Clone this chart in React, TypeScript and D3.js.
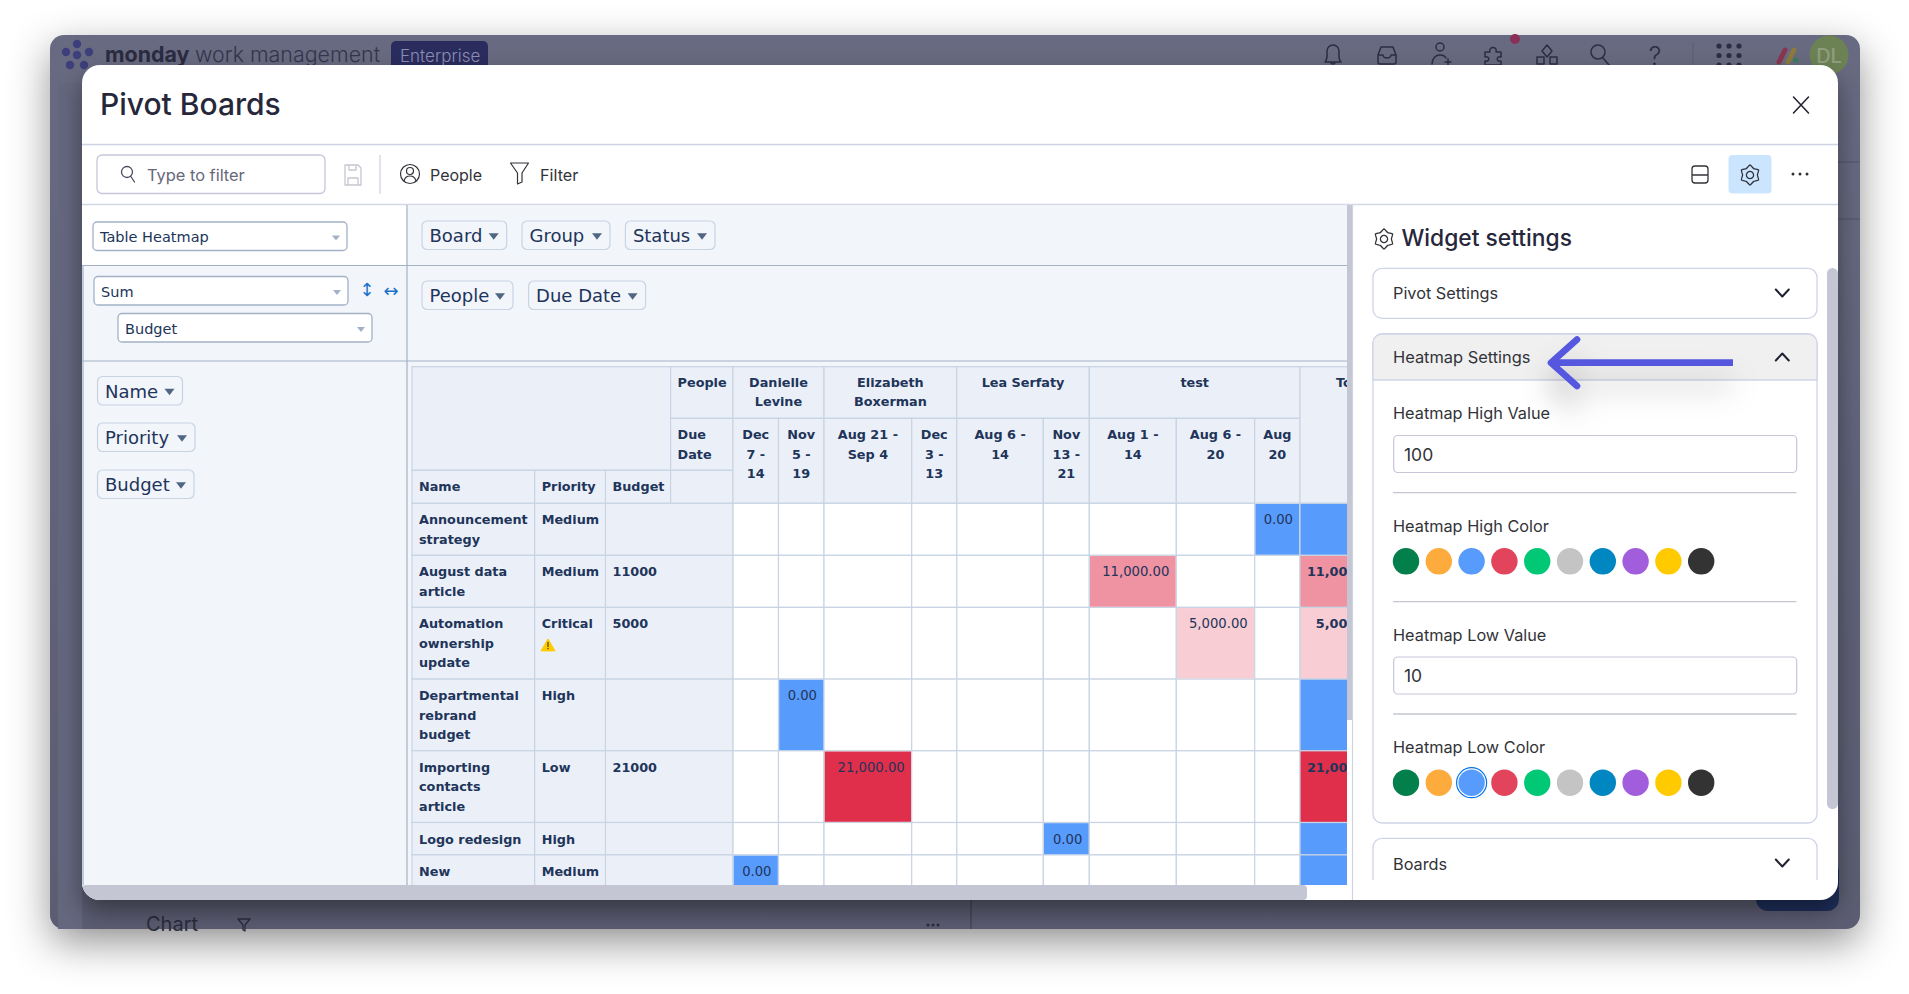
import React, { useEffect, useRef } from "react";
import * as d3 from "d3";

// pivot table contents
const rowNames = [
  ["Announcement", "strategy"],
  ["August data", "article"],
  ["Automation", "ownership", "update"],
  ["Departmental", "rebrand", "budget"],
  ["Importing", "contacts", "article"],
  ["Logo redesign"],
  ["New"],
];
const priorities = ["Medium", "Medium", "Critical", "High", "Low", "High", "Medium"];
const budgets = ["", "11000", "5000", "", "21000", "", ""];
const people = [
  { name: ["Danielle", "Levine"], span: 2 },
  { name: ["Elizabeth", "Boxerman"], span: 2 },
  { name: ["Lea Serfaty"], span: 2 },
  { name: ["test"], span: 3 },
];
const dueDates = [
  ["Dec", "7 -", "14"],
  ["Nov", "5 -", "19"],
  ["Aug 21 -", "Sep 4"],
  ["Dec", "3 -", "13"],
  ["Aug 6 -", "14"],
  ["Nov", "13 -", "21"],
  ["Aug 1 -", "14"],
  ["Aug 6 -", "20"],
  ["Aug", "20"],
];
// [row, date column, value]
const cells: [number, number, number][] = [
  [0, 8, 0],
  [1, 6, 11000],
  [2, 7, 5000],
  [3, 1, 0],
  [4, 2, 21000],
  [5, 5, 0],
  [6, 0, 0],
];
const rowTotals = [0, 11000, 5000, 0, 21000, 0, 0];
const swatches = ["#037f4c", "#fdab3d", "#579bfc", "#e2445c", "#00c875", "#c4c4c4", "#0086c0", "#a25ddc", "#ffcb00", "#333333"];

const W = 1909;
const H = 994;
const UI = "Inter, sans-serif";
const PV = "'DejaVu Sans', sans-serif";
const INK = "#21345a";

const colW = [45.5, 45.5, 87.7, 45.1, 86.5, 46, 87, 78.4, 45.3, 86];
const colEdges = [733, ...Array.from(d3.cumsum(colW)).map((d) => 733 + d)];
const rowH = d3.scaleLinear().domain([1, 3]).range([32.4, 71.7]);
const rowEdges = [503.3];
rowNames.forEach((r, i) => rowEdges.push(rowEdges[i] + rowH(r.length)));

const heat = d3.scaleLinear<string>().domain([0, 21000]).range(["#ffffff", "#e02f4b"]);
const fill = (v: number) => (v === 0 ? "#579bfc" : heat(v));
const money = d3.format(",.2f");

export default function App() {
  const ref = useRef<SVGSVGElement | null>(null);

  useEffect(() => {
    if (!ref.current) return;
    const svg = d3.select(ref.current);
    svg.selectAll("*").remove();
    const defs = svg.append("defs");

    const shadow = (id: string, dy: number, sd: number, op: number) => {
      defs.append("filter").attr("id", id)
        .attr("filterUnits", "userSpaceOnUse")
        .attr("x", -100).attr("y", -100).attr("width", W + 200).attr("height", H + 200)
        .append("feDropShadow")
        .attr("dx", 0).attr("dy", dy).attr("stdDeviation", sd)
        .attr("flood-color", "#000").attr("flood-opacity", op);
    };
    shadow("winShadow", 14, 20, 0.42);
    shadow("modalShadow", 12, 12, 0.4);
    shadow("arrowShadow", 22, 14, 0.28);

    const grad = defs.append("linearGradient").attr("id", "winFill").attr("x1", 0).attr("x2", 0).attr("y1", 0).attr("y2", 1);
    grad.append("stop").attr("offset", 0).attr("stop-color", "#676a81");
    grad.append("stop").attr("offset", 1).attr("stop-color", "#5b5d72");

    const clip = (id: string, x: number, y: number, w: number, h: number, r = 0) =>
      defs.append("clipPath").attr("id", id).append("rect")
        .attr("x", x).attr("y", y).attr("width", w).attr("height", h).attr("rx", r);
    clip("modalClip", 82, 65, 1756, 835, 18);
    clip("tableClip", 407, 205, 940, 680);
    clip("sideClip", 1353, 205, 485, 675);

    const rect = (g: any, x: number, y: number, w: number, h: number, f: string, s = "none", r = 0, sw = 1) =>
      g.append("rect").attr("x", x).attr("y", y).attr("width", w).attr("height", h)
        .attr("fill", f).attr("stroke", s).attr("stroke-width", sw).attr("rx", r);
    const text = (g: any, s: string, x: number, y: number, size: number, color: string, family = UI, weight: any = 400, anchor = "start") =>
      g.append("text").attr("x", x).attr("y", y).attr("font-size", size).attr("fill", color)
        .attr("font-family", family).attr("font-weight", weight).attr("text-anchor", anchor).text(s);
    const hline = (g: any, x1: number, x2: number, y: number, c: string, sw = 1) =>
      g.append("line").attr("x1", x1).attr("x2", x2).attr("y1", y).attr("y2", y).attr("stroke", c).attr("stroke-width", sw);
    const vline = (g: any, x: number, y1: number, y2: number, c: string, sw = 1) =>
      g.append("line").attr("x1", x).attr("x2", x).attr("y1", y1).attr("y2", y2).attr("stroke", c).attr("stroke-width", sw);
    const icon = (g: any, d: string, x: number, y: number, c: string, sw = 1.5, f = "none") =>
      g.append("path").attr("d", d).attr("transform", `translate(${x},${y})`)
        .attr("fill", f).attr("stroke", c).attr("stroke-width", sw)
        .attr("stroke-linecap", "round").attr("stroke-linejoin", "round");
    const tri = (g: any, x: number, y: number, hw: number, h: number, c: string) =>
      g.append("path").attr("d", `M${x - hw} ${y - h / 2}L${x + hw} ${y - h / 2}L${x} ${y + h / 2}Z`).attr("fill", c);

    const gearPath = (r: number) => {
      const pts: [number, number][] = d3.range(12).map((i) => [(i * Math.PI) / 6, i % 2 ? r * 0.74 : r]);
      const outer = d3.lineRadial().curve(d3.curveCardinalClosed.tension(0.6))(pts) as string;
      const c = r * 0.36;
      return `${outer}M${c} 0A${c} ${c} 0 1 1 ${-c} 0A${c} ${c} 0 1 1 ${c} 0`;
    };

    // --- page behind the modal ---
    const back = svg.append("g");
    rect(back, 50, 35, 1810, 894, "url(#winFill)", "none", 14).attr("filter", "url(#winShadow)");
    rect(back, 58, 83, 24, 846, "#64677e");
    hline(back, 1838, 1860, 162, "#585a70", 1.5);
    hline(back, 1838, 1860, 219, "#585a70", 1.5);

    const DARK = "#2c2d44";
    const logo: [number, number][] = [[77, 44], [66, 52], [89, 52], [77, 55], [70, 65], [84, 65]];
    back.selectAll(".logo").data(logo).enter().append("circle")
      .attr("cx", (d: any) => d[0]).attr("cy", (d: any) => d[1]).attr("r", 4.2).attr("fill", "#3d3f7c");
    text(back, "monday", 105, 62, 21.4, "#2a2b40", UI, 700);
    text(back, "work management", 195, 62, 21.4, "#34354c", UI, 300);
    rect(back, 391, 41, 97, 30, "#2b2c5e", "none", 5);
    text(back, "Enterprise", 400, 62, 17, "#8c8fb4", UI, 300);

    icon(back, "M-8 7C-5 4-6-2-6-4A6 6 0 0 1 6-4C6-2 5 4 8 7ZM-2 7A2 2 0 0 0 2 7", 1333, 55, DARK);
    icon(back, "M-9 0L-6-8H6L9 0V7A2 2 0 0 1 7 9H-7A2 2 0 0 1-9 7ZM-9 0H-4A4 3 0 0 0 4 0H9", 1387, 55, DARK);
    icon(back, "M-4-8A4 4 0 1 1 4-8A4 4 0 1 1-4-8M-8 9C-8 3-4 0 0 0C3 0 5 1 6 3M5 7H11M8 4V10", 1440, 55, DARK);
    icon(back, "M-8-3H-3C-5-9 5-9 3-3H8V2C3 0 3 8 8 6V10H-8V6C-3 8-3 0-8 2Z", 1493, 55, DARK);
    back.append("circle").attr("cx", 1515).attr("cy", 39).attr("r", 5).attr("fill", "#8a2f55");
    icon(back, "M0-10L5-4L0 2L-5-4ZM-10 2H-3V9H-10ZM3 2H10V9H3Z", 1547, 55, DARK);
    icon(back, "M-9-3A7 7 0 1 1 5-3A7 7 0 1 1-9-3M3 3L9 10", 1600, 55, DARK);
    text(back, "?", 1655, 65, 25, DARK, UI, 300, "middle");
    vline(back, 1693, 42, 65, "#5a5c72");
    const appDots = d3.cross(d3.range(3), d3.range(3));
    back.selectAll(".app").data(appDots).enter().append("circle")
      .attr("cx", (d: any) => 1719 + d[0] * 10).attr("cy", (d: any) => 46 + d[1] * 9.5).attr("r", 2.6).attr("fill", DARK);
    const mark = ["#8a3550", "#8b7a3c"];
    mark.forEach((c, i) => {
      back.append("line").attr("x1", 1779 + i * 9).attr("y1", 62).attr("x2", 1785 + i * 9).attr("y2", 50)
        .attr("stroke", c).attr("stroke-width", 5).attr("stroke-linecap", "round");
    });
    back.append("circle").attr("cx", 1796).attr("cy", 60).attr("r", 2.6).attr("fill", "#3a7d5a");
    back.append("circle").attr("cx", 1829).attr("cy", 55).attr("r", 19.5).attr("fill", "#6c8254");
    text(back, "DL", 1829, 63, 20, "#8f9e80", UI, 500, "middle");

    rect(back, 1756, 860, 83, 51, "#1e2f5c", "none", 12);
    text(back, "Chart", 146, 931, 20, "#2b2c3c", UI, 400);
    icon(back, "M-6-6H6L1 0V6L-1 5V0Z", 244, 925, "#2b2c3c", 1.3);
    [-5, 0, 5].forEach((o) => back.append("circle").attr("cx", 933 + o).attr("cy", 925).attr("r", 1.5).attr("fill", "#2b2c3c"));
    vline(back, 971, 900, 929, "#3b3c4b");

    // --- modal ---
    rect(svg, 82, 65, 1756, 835, "#fff", "none", 18).attr("filter", "url(#modalShadow)");
    const modal = svg.append("g").attr("clip-path", "url(#modalClip)");

    text(modal, "Pivot Boards", 100, 115, 30, "#26273a", UI, 500);
    icon(modal, "M-7.5-8L7.5 8M7.5-8L-7.5 8", 1801, 105, "#1f2030", 1.5);
    hline(modal, 82, 1838, 144.5, "#cfd2e3", 1.5);
    hline(modal, 82, 1838, 204.5, "#d4d7e6", 1.5);

    rect(modal, 97, 155, 228, 38.5, "#fff", "#c5c7d9", 5, 1.3);
    icon(modal, "M-6-2A5.5 5.5 0 1 1 5-2A5.5 5.5 0 1 1-6-2M3 2L7 8", 127.5, 174, "#4b4d60", 1.3);
    text(modal, "Type to filter", 147, 180.5, 16.4, "#676879");
    icon(modal, "M-8-10H5L8-7V10H-8ZM-4-10V-5H3V-10M-5 10V3H5V10", 353, 175, "#c5c7d0", 1.3);
    vline(modal, 380, 155, 194, "#d0d2de", 1.2);
    icon(modal, "M-9.5 0A9.5 9.5 0 1 1 9.5 0A9.5 9.5 0 1 1-9.5 0M-3.5-3A3.5 3.5 0 1 1 3.5-3A3.5 3.5 0 1 1-3.5-3M-6 7C-5 3-2 2 0 2C2 2 5 3 6 7", 410, 174, "#323338", 1.2);
    text(modal, "People", 430, 180.5, 16, "#323338");
    icon(modal, "M-9-9H9L2.5 1V10L-2 12V1Z", 519.5, 172, "#323338", 1.2);
    text(modal, "Filter", 540, 180.5, 16.2, "#323338");

    rect(modal, 1700 - 8, 166, 16, 17, "none", "#323338", 3, 1.3);
    hline(modal, 1692, 1708, 175, "#323338", 1.3);
    rect(modal, 1728.5, 155, 43, 38.5, "#cce5ff", "none", 4);
    icon(modal, gearPath(10), 1750, 175, "#323338", 1.3);
    [-7, 0, 7].forEach((o) => modal.append("circle").attr("cx", 1800 + o).attr("cy", 174).attr("r", 1.5).attr("fill", "#323338"));

    // --- pivot panels ---
    const PANEL = "#f2f5fa";
    const PLINE = "#a2b1c6";
    const PILL = "#c8d4e3";
    rect(modal, 407, 205, 940, 680, PANEL);
    rect(modal, 82, 265.5, 325, 620, PANEL);
    hline(modal, 82, 1347, 265.5, PLINE, 1.2);
    hline(modal, 82, 1347, 361, PLINE, 1.2);
    vline(modal, 407, 205, 885, PLINE, 1.2);
    vline(modal, 83, 265.5, 885, PLINE, 1.2);

    const select = (label: string, x: number, y: number) => {
      rect(modal, x, y, 254, 28.5, "#fff", PLINE, 4, 1.3);
      text(modal, label, x + 7, y + 20, 14.5, "#21345a", PV);
      tri(modal, x + 243, y + 16, 4, 5, PLINE);
    };
    select("Table Heatmap", 93, 222);
    select("Sum", 94, 276.5);
    select("Budget", 118, 313.5);
    text(modal, "↕", 367, 296, 18, "#1a73c9", PV, 400, "middle");
    text(modal, "↔", 391, 297, 18, "#1a73c9", PV, 400, "middle");

    const pill = (label: string, x: number, y: number, w: number) => {
      rect(modal, x, y, w, 28.5, PANEL, PILL, 5, 1.2);
      text(modal, label, x + 7.5, y + 21.2, 18, INK, PV);
      tri(modal, x + w - 13, y + 15.5, 5, 6.5, "#506784");
    };
    pill("Board", 422, 221, 84.7);
    pill("Group", 522, 221, 88);
    pill("Status", 625.4, 221, 89.6);
    pill("People", 422, 281, 91);
    pill("Due Date", 528.6, 281, 117);
    pill("Name", 97.5, 376.5, 85);
    pill("Priority", 97.5, 423, 97.5);
    pill("Budget", 97.5, 470, 96.5);

    // --- pivot table ---
    const table = modal.append("g").attr("clip-path", "url(#tableClip)");
    const HEAD = "#ebf0f8";
    const GRID = "#c8d4e3";
    const FS = 12.8;
    const LH = 19.4;
    const lines = (g: any, arr: string[], x: number, y: number, anchor: string, weight: any = 700) =>
      arr.forEach((s, i) => text(g, s, x, y + i * LH, FS, INK, PV, weight, anchor));
    const cell = (x0: number, x1: number, y0: number, y1: number, f: string) =>
      rect(table, x0, y0, x1 - x0, y1 - y0, f, GRID, 0, 1.2);

    const Y = [366.7, 418.3, 470.3, 503.3];
    const nameX = [412, 534.7, 605.5, 670.6, 733];
    cell(nameX[0], nameX[3], Y[0], Y[2], HEAD);
    cell(nameX[3], nameX[4], Y[0], Y[1], HEAD);
    lines(table, ["People"], nameX[3] + 7, Y[0] + 20.3, "start");
    cell(nameX[3], nameX[4], Y[1], Y[2], HEAD);
    lines(table, ["Due", "Date"], nameX[3] + 7, Y[1] + 20.8, "start");
    ["Name", "Priority", "Budget", ""].forEach((s, i) => {
      cell(nameX[i], nameX[i + 1], Y[2], Y[3], HEAD);
      if (s) lines(table, [s], nameX[i] + 7, Y[2] + 21, "start");
    });

    let start = 0;
    people.forEach((p) => {
      const x0 = colEdges[start];
      const x1 = colEdges[start + p.span];
      cell(x0, x1, Y[0], Y[1], HEAD);
      lines(table, p.name, (x0 + x1) / 2, Y[0] + 20.3, "middle");
      start += p.span;
    });
    dueDates.forEach((d, i) => {
      cell(colEdges[i], colEdges[i + 1], Y[1], Y[3], HEAD);
      lines(table, d, (colEdges[i] + colEdges[i + 1]) / 2, Y[1] + 20.8, "middle");
    });
    const totalX = colEdges[dueDates.length];
    const totalEnd = colEdges[dueDates.length + 1];
    cell(totalX, totalEnd, Y[0], Y[3], HEAD);
    lines(table, ["Totals"], totalX + 36, Y[0] + 20.3, "start");

    rowNames.forEach((name, r) => {
      const y0 = rowEdges[r];
      const y1 = rowEdges[r + 1];
      cell(nameX[0], nameX[1], y0, y1, HEAD);
      lines(table, name, nameX[0] + 7, y0 + 21, "start");
      cell(nameX[1], nameX[2], y0, y1, HEAD);
      lines(table, [priorities[r]], nameX[1] + 7, y0 + 21, "start");
      cell(nameX[2], nameX[4], y0, y1, HEAD);
      if (budgets[r]) lines(table, [budgets[r]], nameX[2] + 7, y0 + 21, "start");
      dueDates.forEach((_, c) => cell(colEdges[c], colEdges[c + 1], y0, y1, "#fff"));
    });

    // warning sign next to the Critical priority
    const wy = rowEdges[2] + 37.5;
    table.append("path").attr("d", `M548 ${wy - 6}L555 ${wy + 6}H541Z`).attr("fill", "#ffcb00").attr("stroke", "#ffcb00").attr("stroke-linejoin", "round");
    table.append("rect").attr("x", 547.4).attr("y", wy - 3).attr("width", 1.2).attr("height", 5).attr("fill", "#4a3b00");
    table.append("rect").attr("x", 547.4).attr("y", wy + 3).attr("width", 1.2).attr("height", 1.3).attr("fill", "#4a3b00");

    cells.forEach(([r, c, v]) => {
      rect(table, colEdges[c] + 0.7, rowEdges[r] + 0.7, colEdges[c + 1] - colEdges[c] - 1.4, rowEdges[r + 1] - rowEdges[r] - 1.4, fill(v));
      text(table, money(v), colEdges[c + 1] - 7, rowEdges[r] + 21, 13.2, INK, PV, 400, "end");
    });
    rowTotals.forEach((v, r) => {
      rect(table, totalX, rowEdges[r], totalEnd - totalX, rowEdges[r + 1] - rowEdges[r], fill(v), GRID, 0, 1.2);
      text(table, money(v), totalEnd - 7, rowEdges[r] + 21, FS, INK, PV, 700, "end");
    });

    // scrollbars
    const BAR = "#c4c6d4";
    rect(modal, 82, 885, 1225, 15, BAR, "none", 4);
    rect(modal, 1347, 205, 5.5, 515, BAR);
    vline(modal, 1352.5, 205, 900, "#d0d3e0", 1.2);

    // --- widget settings sidebar ---
    const side = modal.append("g");
    const LABEL = "#323338";
    const CARD = "#d0d4e8";
    icon(side, gearPath(10), 1384, 239, "#323338", 1.3);
    text(side, "Widget settings", 1401.5, 246, 22.8, "#26273a", UI, 500);

    const chev = (g: any, y: number, up = false) =>
      icon(g, up ? "M-6.5 3.5L0-3.5L6.5 3.5" : "M-6.5-3.5L0 3.5L6.5-3.5", 1782.3, y, "#1f2030", 2);

    rect(side, 1373, 268.3, 444, 50, "#fff", CARD, 9, 1.3);
    text(side, "Pivot Settings", 1393, 299, 16.3, LABEL);
    chev(side, 293);

    rect(side, 1373, 334, 444, 489, "#fff", CARD, 9, 1.3);
    side.append("path").attr("d", "M1373 380V343A9 9 0 0 1 1382 334H1808A9 9 0 0 1 1817 343V380Z").attr("fill", "#f0f0f0").attr("stroke", CARD).attr("stroke-width", 1.3);
    text(side, "Heatmap Settings", 1393, 363, 16.4, LABEL);
    chev(side, 357, true);

    const arrow = side.append("g").attr("filter", "url(#arrowShadow)");
    arrow.append("line").attr("x1", 1733).attr("x2", 1553).attr("y1", 362.7).attr("y2", 362.7).attr("stroke", "#5559df").attr("stroke-width", 6.7);
    icon(arrow, "M26-23.2L0 0L26 23.2", 1551, 362.7, "#5559df", 6.7);

    const field = (label: string, value: string, ly: number, iy: number) => {
      text(side, label, 1393, ly, 16.3, LABEL);
      rect(side, 1393.7, iy, 403, 37, "#fff", "#c5c7d9", 4, 1.2);
      text(side, value, 1404, iy + 25, 17.5, LABEL);
    };
    const palette = (label: string, ly: number, cy: number, selected: number) => {
      text(side, label, 1393, ly, 16.3, LABEL);
      swatches.forEach((c, i) => {
        side.append("circle").attr("cx", 1406 + i * 32.8).attr("cy", cy).attr("r", 13.2).attr("fill", c);
        if (i === selected) {
          side.append("circle").attr("cx", 1406 + i * 32.8).attr("cy", cy).attr("r", 15).attr("fill", "none").attr("stroke", "#0073ea").attr("stroke-width", 1.2);
        }
      });
    };
    field("Heatmap High Value", "100", 419.3, 435.5);
    hline(side, 1393, 1796.5, 492.7, "#c5c7d0", 1.3);
    palette("Heatmap High Color", 532, 561.3, -1);
    hline(side, 1393, 1796.5, 601.7, "#c5c7d0", 1.3);
    field("Heatmap Low Value", "10", 640.7, 657);
    hline(side, 1393, 1796.5, 714, "#c5c7d0", 1.3);
    palette("Heatmap Low Color", 753.3, 782.7, 2);

    const boards = side.append("g").attr("clip-path", "url(#sideClip)");
    rect(boards, 1373, 838.3, 444, 80, "#fff", CARD, 9, 1.3);
    text(boards, "Boards", 1393, 870, 16.3, LABEL);
    chev(boards, 863);

    rect(side, 1827, 268, 11, 541, BAR, "none", 5.5);
  }, []);

  return (
    <svg
      ref={ref}
      width={W}
      height={H}
      viewBox={`0 0 ${W} ${H}`}
      style={{ position: "absolute", left: 0, top: 0, background: "#fff" }}
    />
  );
}
